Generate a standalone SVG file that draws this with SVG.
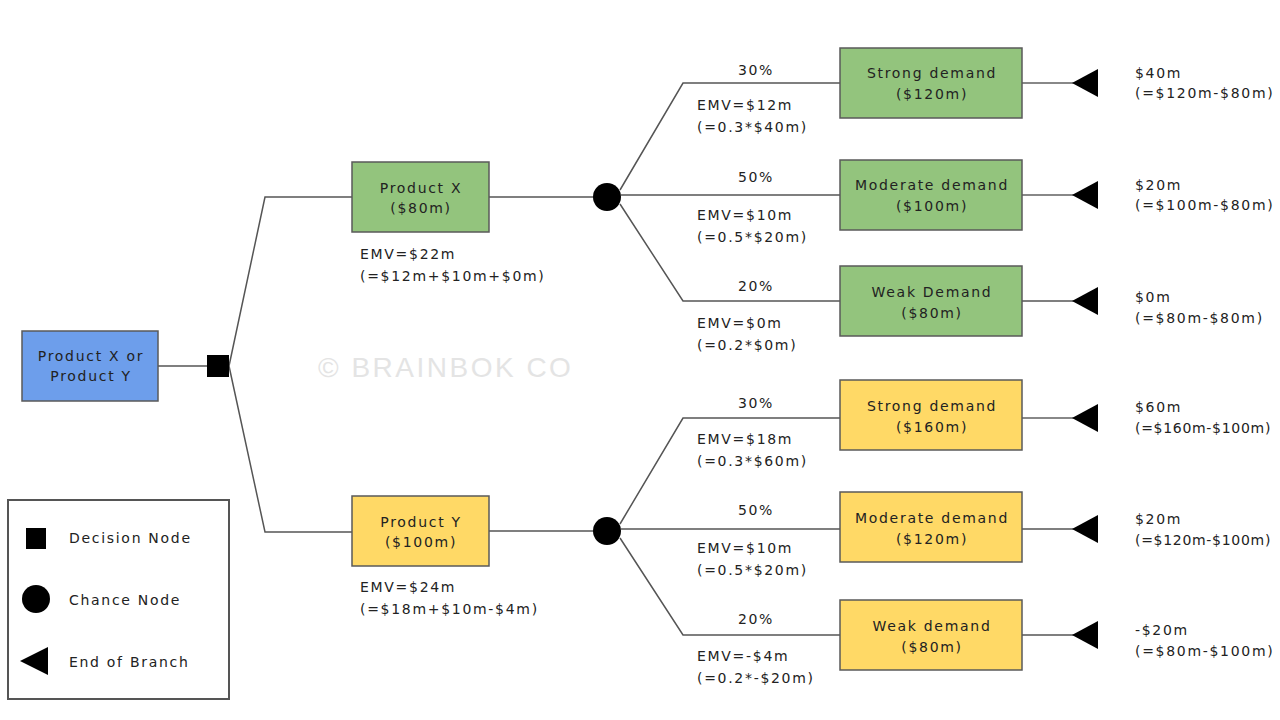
<svg xmlns="http://www.w3.org/2000/svg" width="1280" height="720" viewBox="0 0 1280 720">
<style>
text{font-family:"DejaVu Sans","Liberation Sans",sans-serif;font-size:14px;letter-spacing:1.7px;fill:#222}
.c{text-anchor:middle}
.tight{letter-spacing:0.7px}
.box{stroke:#5a5a5a;stroke-width:1.5}
.g{fill:#93c47d}
.y{fill:#ffd966}
.b{fill:#6d9eeb}
.ln{fill:none;stroke:#555;stroke-width:1.5}
.ln2{fill:none;stroke:#888;stroke-width:2}
.wm{font-family:"Liberation Sans",Arial,sans-serif;font-size:28px;letter-spacing:2.5px;fill:#e4e4e4}
</style>
<defs>
<path id="tri" d="M0,0 L26,-14 L26,14 Z" fill="#000"/>
</defs>
<text class="wm" x="318" y="377">© BRAINBOK CO</text>
<g id="connectors">
<path class="ln" d="M158,366 H207"/>
<path class="ln" d="M229,366 L265,197 H352"/>
<path class="ln" d="M229,366 L265,532 H352"/>
<path class="ln" d="M489,197 H593"/>
<path class="ln" d="M489,531 H593"/>
<path class="ln" d="M620,190 L683,83 H840"/>
<path class="ln" d="M621,195 H840"/>
<path class="ln" d="M620,204 L683,301 H840"/>
<path class="ln" d="M620,524 L683,418 H840"/>
<path class="ln" d="M621,529 H840"/>
<path class="ln" d="M620,538 L683,635 H840"/>
<path class="ln2" d="M1022,83 H1074"/>
<path class="ln2" d="M1022,195 H1074"/>
<path class="ln" d="M1022,301 H1074"/>
<path class="ln2" d="M1022,418 H1074"/>
<path class="ln" d="M1022,529 H1074"/>
<path class="ln" d="M1022,635 H1074"/>
</g>
<g id="root"><rect class="box b" x="22" y="331" width="136" height="70"/><text class="c" x="91" y="361">Product X or</text><text class="c" x="91" y="381">Product Y</text></g>
<g id="decision"><rect x="207" y="355" width="22" height="22" fill="#000"/></g>
<g id="productX"><rect class="box g" x="352" y="162" width="137" height="70"/><text class="c" x="421" y="193">Product X</text><text class="c" x="421" y="213">($80m)</text>
<text x="360" y="259">EMV=$22m</text><text x="360" y="281">(=$12m+$10m+$0m)</text></g>
<g id="productY"><rect class="box y" x="352" y="496" width="137" height="70"/><text class="c" x="421" y="527">Product Y</text><text class="c" x="421" y="547">($100m)</text>
<text x="360" y="592">EMV=$24m</text><text x="360" y="614">(=$18m+$10m-$4m)</text></g>
<g id="chanceX"><circle cx="607" cy="197" r="14" fill="#000"/></g>
<g id="chanceY"><circle cx="607" cy="531" r="14" fill="#000"/></g>
<g id="xStrong"><text class="c" x="756" y="75">30%</text><text x="697" y="110">EMV=$12m</text><text x="697" y="132">(=0.3*$40m)</text>
<rect class="box g" x="840" y="48" width="182" height="70"/><text class="c" x="932" y="78">Strong demand</text><text class="c" x="932" y="99">($120m)</text>
<use href="#tri" x="1072" y="83"/><text x="1135" y="78">$40m</text><text x="1135" y="98">(=$120m-$80m)</text></g>
<g id="xModerate"><text class="c" x="756" y="182">50%</text><text x="697" y="220">EMV=$10m</text><text x="697" y="242">(=0.5*$20m)</text>
<rect class="box g" x="840" y="160" width="182" height="70"/><text class="c" x="932" y="190">Moderate demand</text><text class="c" x="932" y="211">($100m)</text>
<use href="#tri" x="1072" y="195"/><text x="1135" y="190">$20m</text><text x="1135" y="210">(=$100m-$80m)</text></g>
<g id="xWeak"><text class="c" x="756" y="291">20%</text><text x="697" y="328">EMV=$0m</text><text x="697" y="350">(=0.2*$0m)</text>
<rect class="box g" x="840" y="266" width="182" height="70"/><text class="c" x="932" y="297">Weak Demand</text><text class="c" x="932" y="318">($80m)</text>
<use href="#tri" x="1072" y="301"/><text x="1135" y="302">$0m</text><text x="1135" y="323">(=$80m-$80m)</text></g>
<g id="yStrong"><text class="c" x="756" y="408">30%</text><text x="697" y="444">EMV=$18m</text><text x="697" y="466">(=0.3*$60m)</text>
<rect class="box y" x="840" y="380" width="182" height="70"/><text class="c" x="932" y="411">Strong demand</text><text class="c" x="932" y="432">($160m)</text>
<use href="#tri" x="1072" y="418"/><text x="1135" y="412">$60m</text><text class="tight" x="1135" y="433">(=$160m-$100m)</text></g>
<g id="yModerate"><text class="c" x="756" y="515">50%</text><text x="697" y="553">EMV=$10m</text><text x="697" y="575">(=0.5*$20m)</text>
<rect class="box y" x="840" y="492" width="182" height="70"/><text class="c" x="932" y="523">Moderate demand</text><text class="c" x="932" y="544">($120m)</text>
<use href="#tri" x="1072" y="529"/><text x="1135" y="524">$20m</text><text class="tight" x="1135" y="545">(=$120m-$100m)</text></g>
<g id="yWeak"><text class="c" x="756" y="624">20%</text><text x="697" y="661">EMV=-$4m</text><text x="697" y="683">(=0.2*-$20m)</text>
<rect class="box y" x="840" y="600" width="182" height="70"/><text class="c" x="932" y="631">Weak demand</text><text class="c" x="932" y="652">($80m)</text>
<use href="#tri" x="1072" y="635"/><text x="1135" y="635">-$20m</text><text x="1135" y="656">(=$80m-$100m)</text></g>
<g id="legend"><rect x="8" y="500" width="221" height="199" fill="#fff" stroke="#555" stroke-width="2"/>
<rect x="26" y="528" width="20" height="21" fill="#000"/><text x="69" y="543">Decision Node</text>
<circle cx="36" cy="599" r="14" fill="#000"/><text x="69" y="605">Chance Node</text>
<path d="M20,661 L48,647 L48,675 Z" fill="#000"/><text x="69" y="667">End of Branch</text></g>
</svg>
